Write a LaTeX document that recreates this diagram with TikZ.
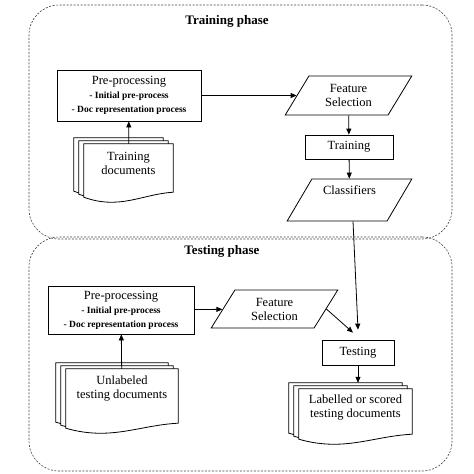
\documentclass[tikz,border=0pt]{standalone}
\usepackage{fontspec}
\setmainfont{Liberation Serif}
\usetikzlibrary{shapes.geometric,arrows.meta,backgrounds,calc}

\newcommand{\subtxt}{\fontsize{9.5}{11}\selectfont\bfseries}
% three stacked sheets behind a document node
\newcommand{\docstack}[1]{%
  \begin{scope}[on background layer]
    \foreach \k in {2,1,0}{
      \path[draw,fill=white,line width=0.8pt]
        let \p1=($(#1.north west)+(-5pt*\k,3pt*\k)$),
            \p2=($(#1.south east)+(-5pt*\k,3pt*\k)$), \n1={\x2-\x1} in
        (\x1,\y1) -- (\x2,\y1) -- (\x2,\y2)
        .. controls (\x2-0.35*\n1,\y2-2pt) and (\x1+0.4*\n1,\y2-18pt) .. (\x1,\y2-5pt) -- cycle;
    }
  \end{scope}}

\begin{document}
\begin{tikzpicture}[x=1pt,y=-1pt,
    font=\fontsize{12.5}{14}\selectfont,
    box/.style={draw,line width=0.8pt,rectangle,inner sep=0pt,align=center},
    para/.style={draw,line width=0.8pt,trapezium,trapezium left angle=58,
      trapezium right angle=122,trapezium stretches=true,inner sep=0pt,align=center},
    doc/.style={inner sep=0pt,align=center},
    arr/.style={-{Triangle[length=6pt,width=5pt]},line width=0.8pt},
    phase/.style={draw=black!75,line width=0.6pt,dash pattern=on 2pt off 1.5pt,
      rounded corners=30pt,inner sep=0pt},
    title/.style={font=\fontsize{13}{15}\selectfont\bfseries}]
  \useasboundingbox (0,0) rectangle (474,474);

  % phases
  \node[phase,minimum width=423pt,minimum height=234pt] (trainbox) at (240.5,122) {};
  \node[phase,minimum width=423pt,minimum height=234pt] (testbox) at (240.5,354) {};
  \node[title] (trainhead) at (227,21) {Training phase};
  \node[title] (testhead) at (222,251) {Testing phase};

  % training phase
  \node[box,minimum width=144pt,minimum height=51pt] (pp1) at (129,95.5)
    {Pre-processing\\\subtxt - Initial pre-process\\\subtxt - Doc representation process};
  \node[para,minimum width=127pt,minimum height=39pt] (fs1) at (348.5,95.5) {Feature\\Selection};
  \node[box,minimum width=88pt,minimum height=24pt] (train) at (349,147) {Training};
  \node[para,minimum width=125pt,minimum height=42pt,text depth=19pt] (cls) at (349.5,200) {Classifiers};
  \node[doc,minimum width=89pt,minimum height=48pt,text depth=9pt] (tdocs) at (128.5,168) {Training\\documents};
  \docstack{tdocs}

  % testing phase
  \node[box,minimum width=146pt,minimum height=48pt] (pp2) at (121,310)
    {Pre-processing\\\subtxt - Initial pre-process\\\subtxt - Doc representation process};
  \node[para,minimum width=127pt,minimum height=38pt] (fs2) at (274.5,309) {Feature\\Selection};
  \node[box,minimum width=72pt,minimum height=25pt] (test) at (358,352.5) {Testing};
  \node[doc,minimum width=112pt,minimum height=54pt,text depth=17pt] (udocs) at (122,396) {Unlabeled\\testing documents};
  \docstack{udocs}
  \node[doc,minimum width=113pt,minimum height=45pt,text depth=10pt] (ldocs) at (355.5,411.5) {Labelled or scored\\testing documents};
  \docstack{ldocs}

  % connectors
  \draw[arr] (tdocs) -- (pp1);
  \draw[arr] (pp1) -- (fs1);
  \draw[arr] (fs1) -- (train);
  \draw[arr] (train) -- (cls);
  \draw[arr] ([xshift=3.5pt]cls.south) -- ([yshift=10pt]test.north);
  \draw[arr] (udocs) -- (pp2);
  \draw[arr] (pp2) -- (fs2);
  \draw[arr] (fs2.east) -- ([xshift=-5pt,yshift=7pt]test.north);
  \draw[arr] (test.south) -- ($(test.south |- ldocs.north)+(0,-6)$);
\end{tikzpicture}
\end{document}
